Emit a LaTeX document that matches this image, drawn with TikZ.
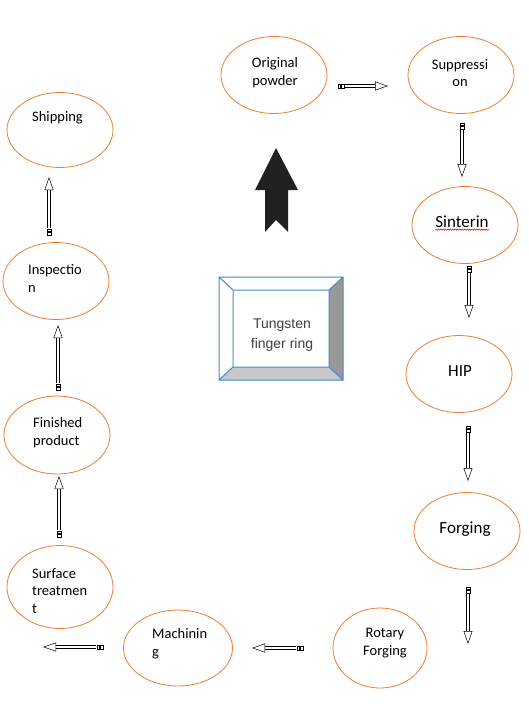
\documentclass[tikz,border=0pt]{standalone}
\usepackage{fontspec}
\setmainfont{Carlito}
\newfontfamily\arialfont{Liberation Sans}
\usetikzlibrary{shapes.geometric,arrows.meta,calc,decorations.markings,decorations.pathmorphing}
\definecolor{ringorange}{RGB}{237,125,49}
\definecolor{bevelblue}{RGB}{68,140,210}
\definecolor{bevelgray}{RGB}{153,153,153}
\definecolor{bevellight}{RGB}{200,200,200}
\begin{document}
\begin{tikzpicture}[x=1pt, y=-1pt,
    stage/.style={ellipse, draw=ringorange, line width=0.8pt, minimum width=106pt, minimum height=77pt, inner sep=0pt},
    lbl/.style={font=\fontsize{14.5}{17.5}\selectfont, inner sep=0pt, align=left, anchor=base west},
    big/.style={font=\fontsize{17}{20}\selectfont, inner sep=0pt, anchor=base},
    flow/.style={double, double distance=2.4pt, line width=0.5pt, shorten <=7pt,
        -{Triangle[open, width=9pt, length=13pt, line width=0.5pt]}},
    stripes/.style={decorate, decoration={markings, mark=at position 0pt with
        {\draw[line width=0.4pt] (0pt,-1.7pt) rectangle (2.4pt,1.7pt) (3.6pt,-1.7pt) rectangle (6pt,1.7pt);}}}
]
    \useasboundingbox (0,0) rectangle (529,717);

    % Stationen
    \node[stage] (powder) at (274,75) {};
    \node[stage] (press) at (461,75) {};
    \node[stage] (sinter) at (465,225) {};
    \node[stage] (hip) at (459,374) {};
    \node[stage] (forge) at (467,531) {};
    \node[stage, minimum width=94pt, minimum height=80pt] (rotary) at (380,648) {};
    \node[stage, minimum width=109pt, minimum height=76pt] (mach) at (178,648) {};
    \node[stage, minimum height=83pt] (surf) at (60,587) {};
    \node[stage, minimum height=78pt] (fin) at (57,435) {};
    \node[stage] (insp) at (56,281) {};
    \node[stage, minimum height=75pt] (ship) at (60,130) {};

    % Beschriftungen (Basislinie der letzten Zeile)
    \node[lbl, align=center, anchor=base] (tpowder) at (275,85) {Original\\powder};
    \node[lbl, align=center, anchor=base] (tpress) at (460,86.7) {Suppressi\\on};
    \node[big] (tsinter) at (462,227.3) {Sinterin};
    \node[big] (thip) at (460,376.7) {HIP};
    \node[big] (tforge) at (465,533.3) {Forging};
    \node[lbl, align=center, anchor=base] (trotary) at (385,655) {Rotary\\Forging};
    \node[lbl] (tmach) at (152,656) {Machinin\\g};
    \node[lbl] (tsurf) at (32,613) {Surface\\treatmen\\t};
    \node[lbl] (tfin) at (33,445) {Finished\\product};
    \node[lbl] (tinsp) at (28,292) {Inspectio\\n};
    \node[lbl] (tship) at (32,121.7) {Shipping};
    \draw[red!85!black, line width=0.5pt, decorate, decoration={snake, amplitude=0.7pt, segment length=2.4pt}]
        ($(tsinter.base west)+(0,2.3)$) -- ($(tsinter.base east)+(0,2.3)$);

    % Pfeile
    \coordinate (a1s) at (338,86);  \coordinate (a1e) at (388,86);
    \coordinate (a2s) at (462,123); \coordinate (a2e) at (462,177);
    \coordinate (a3s) at (469,266); \coordinate (a3e) at (469,318);
    \coordinate (a4s) at (468,426); \coordinate (a4e) at (468,481);
    \coordinate (a5s) at (468,587); \coordinate (a5e) at (468,644);
    \coordinate (a6s) at (303,648); \coordinate (a6e) at (252,648);
    \coordinate (a7s) at (103,647); \coordinate (a7e) at (43,647);
    \coordinate (a8s) at (59,537);  \coordinate (a8e) at (59,476);
    \coordinate (a9s) at (58,390);  \coordinate (a9e) at (58,325);
    \coordinate (a10s) at (49,235); \coordinate (a10e) at (49,177);
    \foreach \i in {1,...,10} {
        \draw[flow] (a\i s) -- (a\i e);
        \path[stripes] (a\i s) -- (a\i e);
    }

    % Block in der Mitte
    \fill[black!87] (276,148) -- (298,190) -- (288,190) -- (288,232) -- (276,220)
        -- (265,232) -- (265,190) -- (255,190) -- cycle;
    \fill[white] (219,277) rectangle (343,380);
    \fill[bevelgray] (343,277) -- (343,380) -- (329,367) -- (329,290) -- cycle;
    \fill[bevellight] (219,380) -- (343,380) -- (329,367) -- (233,367) -- cycle;
    \draw[bevelblue, line width=1pt] (219,277) rectangle (343,380) (233,290) rectangle (329,367)
        (219,277) -- (233,290) (343,277) -- (329,290) (343,380) -- (329,367) (219,380) -- (233,367);
    \node[font=\arialfont\fontsize{14}{19.3}\selectfont, text=black!75, align=center, inner sep=0pt, anchor=base] (ring) at (282,348) {Tungsten\\finger ring};
\end{tikzpicture}
\end{document}
